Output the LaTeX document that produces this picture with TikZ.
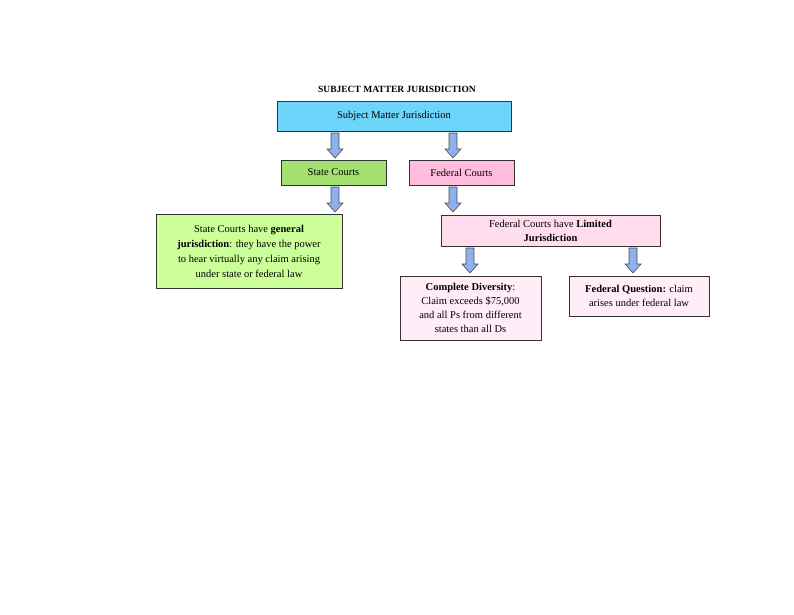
\documentclass[tikz,border=0pt]{standalone}
\usepackage{fontspec}
\setmainfont{Liberation Serif}
\definecolor{cyanbox}{HTML}{6DD5FA}
\definecolor{greenbox}{HTML}{A3E070}
\definecolor{pinkbox}{HTML}{FFBCDD}
\definecolor{lgreen}{HTML}{CCFF99}
\definecolor{lpink}{HTML}{FFDDEE}
\definecolor{vpink}{HTML}{FFEEF7}
\definecolor{arrowblue}{HTML}{8EB0EE}
\newcommand{\blkarrow}[3]{\draw[fill=arrowblue,draw=black!70,line width=0.6pt] (#1-4,#2) -- (#1+4,#2) -- (#1+4,#3-9) -- (#1+8,#3-9) -- (#1,#3) -- (#1-8,#3-9) -- (#1-4,#3-9) -- cycle;}
\begin{document}
\begin{tikzpicture}[x=1pt,y=-1pt,
  box/.style={draw=black!80,line width=0.6pt,align=center,font=\fontsize{10.5}{14}\selectfont,inner sep=0pt}]
\useasboundingbox (0,0) rectangle (794,614);
\fill[white] (0,0) rectangle (794,614);
\node[font=\bfseries\fontsize{9.5}{11}\selectfont] (title) at (397,89) {SUBJECT MATTER JURISDICTION};
\node[box,fill=cyanbox,minimum width=234pt,minimum height=30pt] (smj) at (394,116) {Subject Matter Jurisdiction};
\node[box,fill=greenbox,minimum width=105pt,minimum height=25pt] (sc) at (333.5,172.5) {State Courts};
\node[box,fill=pinkbox,minimum width=105pt,minimum height=25pt] (fc) at (461.5,172.5) {Federal Courts};
\node[box,fill=lgreen,minimum width=186pt,minimum height=74pt,font=\fontsize{10.5}{15}\selectfont] (sd) at (249,251) {State Courts have \textbf{general}\\\textbf{jurisdiction}: they have the power\\to hear virtually any claim arising\\under state or federal law};
\node[box,fill=lpink,minimum width=219pt,minimum height=31pt] (fl) at (550.5,230.5) {Federal Courts have \textbf{Limited}\\\textbf{Jurisdiction}};
\node[box,fill=vpink,minimum width=141pt,minimum height=64pt] (cd) at (470.5,308) {\textbf{Complete Diversity}:\\Claim exceeds \$75,000\\and all Ps from different\\states than all Ds};
\node[box,fill=vpink,minimum width=140pt,minimum height=40pt] (fq) at (639,296) {\textbf{Federal Question:} claim\\arises under federal law};
\blkarrow{335}{133}{158}
\blkarrow{453}{133}{158}
\blkarrow{335}{187}{212}
\blkarrow{453}{187}{212}
\blkarrow{470}{248}{273}
\blkarrow{633}{248}{273}
\end{tikzpicture}
\end{document}
